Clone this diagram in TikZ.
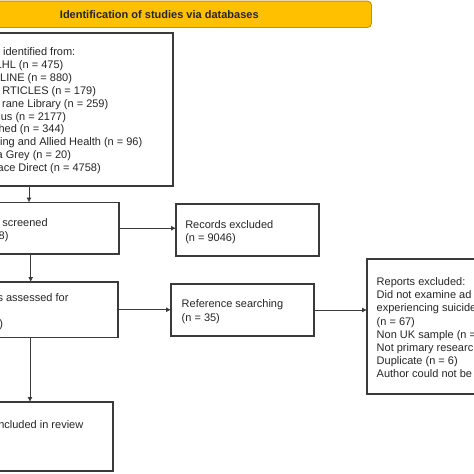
\documentclass[tikz,border=0pt]{standalone}
\usepackage{fontspec}
\setmainfont{Liberation Sans}
\usetikzlibrary{arrows.meta,calc}
\definecolor{boxc}{HTML}{3A3A3A}
\definecolor{txtc}{HTML}{262626}
\definecolor{bannerfill}{HTML}{FFC000}
\definecolor{bannerline}{HTML}{C49400}
\begin{document}
\begin{tikzpicture}[x=1pt,y=-1pt,
  box/.style={draw=boxc, line width=1.1pt, fill=white, inner sep=0pt, outer sep=0pt, anchor=north west},
  txt/.style={inner sep=0pt, outer sep=0pt, font=\fontsize{11}{13}\selectfont, text=txtc},
  arr/.style={draw=boxc, line width=0.8pt, -{Latex[length=5pt,width=5pt]}},
  banner/.style={draw=bannerline, line width=0.9pt, fill=bannerfill, rounded corners=4pt, inner sep=0pt, anchor=north west}]
\useasboundingbox (0,0) rectangle (474,474);
\fill[white] (0,0) rectangle (474,474);
\clip (0,0) rectangle (474,474);

% banner
\node[banner, minimum width=431pt, minimum height=26.4pt] (ban) at (-60,0.6) {};
\node[txt, font=\fontsize{11}{13}\selectfont\bfseries, anchor=base] (bant) at (159.3,18) {Identification of studies via databases};

% boxes
\node[box, minimum width=183pt, minimum height=153pt] (id) at (-10,33) {};
\node[box, minimum width=129pt, minimum height=51.5pt] (scr) at (-10,202.5) {};
\node[box, minimum width=143pt, minimum height=52pt] (exc) at (176,204) {};
\node[box, minimum width=128pt, minimum height=55.5pt] (ass) at (-10,282) {};
\node[box, minimum width=143pt, minimum height=52pt] (ref) at (171,284) {};
\node[box, minimum width=123pt, minimum height=135pt] (rep) at (367,259) {};
\node[box, minimum width=123pt, minimum height=69pt] (inc) at (-10,402) {};

% texts of records identified
\node[txt, anchor=base east] (t1) at (75.3,55.5) {identified from:};
\node[txt, anchor=base east] (t2) at (63.3,68.4) {LHL (n = 475)};
\node[txt, anchor=base east] (t3) at (72,81.3) {LINE (n = 880)};
\node[txt, anchor=base east] (t4) at (96,94.2) {RTICLES (n = 179)};
\node[txt, anchor=base east] (t5) at (108.3,107.1) {rane Library (n = 259)};
\node[txt, anchor=base east] (t6) at (66,120) {us (n = 2177)};
\node[txt, anchor=base east] (t7) at (64.3,132.9) {hed (n = 344)};
\node[txt, anchor=base east] (t8) at (142.3,145.8) {ing and Allied Health (n = 96)};
\node[txt, anchor=base east] (t9) at (71,158.7) {a Grey (n = 20)};
\node[txt, anchor=base east] (t10) at (100.7,171.6) {ace Direct (n = 4758)};

% screened
\node[txt, anchor=base east] (s1) at (47.7,226) {screened};
\node[txt, anchor=base east] (s2) at (8.5,239.5) {8)};

% records excluded
\node[txt, anchor=base west] (e1) at (185.3,228) {Records excluded};
\node[txt, anchor=base west] (e2) at (185.3,241) {(n = 9046)};

% assessed
\node[txt, anchor=base east] (a1) at (68.5,301) {s assessed for};
\node[txt, anchor=base east] (a2) at (3,327) {)};

% reference searching
\node[txt, anchor=base west] (r1) at (181.7,307.5) {Reference searching};
\node[txt, anchor=base west] (r2) at (181.7,321) {(n = 35)};

% reports excluded
\node[txt, anchor=base west] (p1) at (376.7,285.5) {Reports excluded:};
\node[txt, anchor=base west] (p2) at (376.7,298.7) {Did not examine ad};
\node[txt, anchor=base west] (p3) at (376.7,311.9) {experiencing suicide};
\node[txt, anchor=base west] (p4) at (376.7,325.1) {(n = 67)};
\node[txt, anchor=base west] (p5) at (376.7,338.3) {Non UK sample (n =};
\node[txt, anchor=base west] (p6) at (376.7,351.5) {Not primary researc};
\node[txt, anchor=base west] (p7) at (376.7,364.7) {Duplicate (n = 6)};
\node[txt, anchor=base west] (p8) at (376.7,377.9) {Author could not be};

% included
\node[txt, anchor=base east] (i1) at (83.3,428) {ncluded in review};

% connectors
\coordinate (c1) at (29,0);
\coordinate (c2) at (30.7,0);
\coordinate (c3) at (30,0);
\draw[arr] (id.south -| c1) -- (scr.north -| c1);
\draw[arr] (scr.east) -- (scr.east -| exc.west);
\draw[arr] (scr.south -| c2) -- (ass.north -| c2);
\draw[arr] (ass.east) -- (ass.east -| ref.west);
\draw[arr] (ref.east) -- (ref.east -| rep.west);
\draw[arr] (ass.south -| c3) -- (inc.north -| c3);
\end{tikzpicture}
\end{document}
